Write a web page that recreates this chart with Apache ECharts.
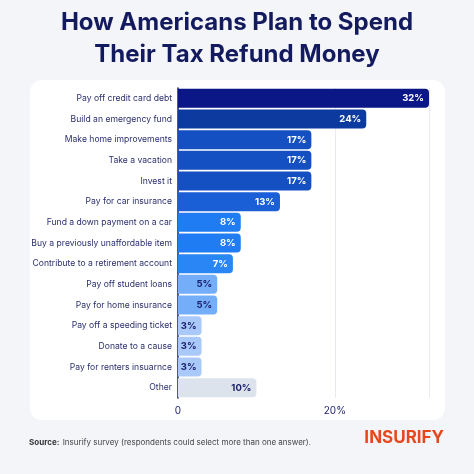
<!DOCTYPE html><html><head><meta charset="utf-8"><script src="https://cdn.jsdelivr.net/npm/echarts@6/dist/echarts.min.js"></script>
<style>html,body{margin:0;padding:0;background:#f3f5f9}#c{width:474px;height:474px}</style></head><body><div id="c"></div>
<script>
const categories=["Pay off credit card debt","Build an emergency fund","Make home improvements","Take a vacation","Invest it","Pay for car insurance","Fund a down payment on a car","Buy a previously unaffordable item","Contribute to a retirement account","Pay off student loans","Pay for home insurance","Pay off a speeding ticket","Donate to a cause","Pay for renters insuarnce","Other"];
const values=[32,24,17,17,17,13,8,8,7,5,5,3,3,3,10];
const barColors=["#0b1687","#0d3a9e","#1450c2","#1450c2","#1450c2","#1a5fd6","#1f7cf2","#1f7cf2","#2b86f5","#74adf8","#74adf8","#a9c9fa","#a9c9fa","#a9c9fa","#dde3ec"];
const labelColors=values.map((v,i)=>i<9?"#ffffff":"#1a1f6b");
const tickLabels=["0","20%"];
const chart=echarts.init(document.getElementById('c'));
chart.setOption({
 backgroundColor:'#f3f5f9',
 graphic:[{type:'rect',z:-10,shape:{x:30,y:80,width:415,height:340,r:12},style:{fill:'#ffffff'}},
  {type:'text',left:'center',top:7,style:{text:'How Americans Plan to Spend\nTheir Tax Refund Money',fill:'#141a5e',font:'bold 24px Inter',textAlign:'center',lineHeight:32}},
  {type:'text',left:29,top:437,style:{rich:{b:{font:'bold 8px Inter',fill:'#333'},n:{font:'8px Inter',fill:'#444'}},text:'{b|Source:} {n|Insurify survey (respondents could select more than one answer).}'}},
  {type:'text',right:30,top:429,style:{text:'INSURIFY',fill:'#e8471c',font:'bold 17px Inter'}}],
 grid:{left:178,right:45,top:88,bottom:76},
 xAxis:{type:'value',min:0,max:32,interval:20,axisLine:{show:false},axisTick:{show:false},
  splitLine:{lineStyle:{color:'#e8eaf0'}},
  axisLabel:{showMaxLabel:false,color:'#1a1f6b',fontSize:10,fontFamily:'Inter',margin:8,formatter:v=>v===0?tickLabels[0]:v===20?tickLabels[1]:''}},
 yAxis:{type:'category',inverse:true,data:categories,axisTick:{show:false},
  axisLine:{lineStyle:{color:'#1a1f6b',width:1.5}},
  axisLabel:{color:'#2a2f6e',fontSize:8.6,fontFamily:'Inter',margin:6}},
 series:[{type:'bar',barCategoryGap:'8%',data:values.map((v,i)=>({value:v,itemStyle:{color:barColors[i],borderRadius:[0,4,4,0]},label:{color:labelColors[i]}})),
  label:{show:true,position:'insideRight',formatter:'{c}%',fontSize:9.5,fontWeight:'bold',fontFamily:'Inter'}}]
});
</script></body></html>
